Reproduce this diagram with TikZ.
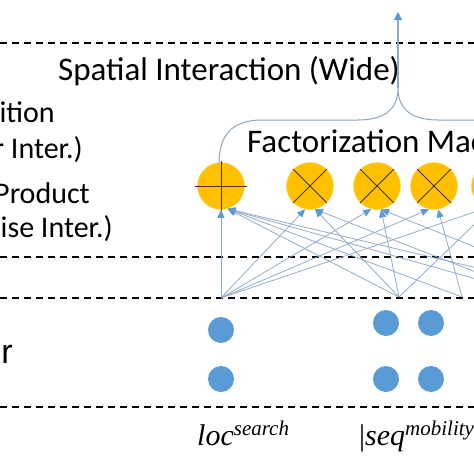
\documentclass[tikz,border=0pt]{standalone}
\usepackage{fontspec}
\setmainfont{Carlito}
\newfontfamily\arialf{Liberation Sans}
\newfontfamily\timesf{Liberation Serif}
\usetikzlibrary{arrows.meta}
\definecolor{fmorange}{HTML}{FFC000}
\definecolor{dotblue}{HTML}{5B9BD5}
\definecolor{edgeblue}{HTML}{8FA9C8}
\definecolor{braceblue}{HTML}{8FA7BF}
\definecolor{crossbrown}{HTML}{4A3010}
\begin{document}
\begin{tikzpicture}[x=1pt,y=-1pt,
  fm/.style={circle,fill=fmorange,draw=fmorange!60!white,line width=0.6pt,minimum size=47pt,inner sep=0pt},
  emb/.style={circle,fill=dotblue,minimum size=26pt,inner sep=0pt},
  crossline/.style={draw=crossbrown,line width=0.9pt},
  sep/.style={draw=black,line width=1.5pt,dash pattern=on 7pt off 5pt},
  edge/.style={draw=edgeblue,line width=0.75pt,-{Triangle[length=8pt,width=7pt,color=dotblue]}},
  brace/.style={draw=braceblue,line width=1pt},
  big/.style={inner sep=0pt,font=\fontsize{33}{35}\selectfont},
  lbl/.style={inner sep=0pt,font=\fontsize{30}{32}\selectfont},
  math/.style={inner sep=0pt,font=\timesf\itshape\fontsize{30}{32}\selectfont}]
\useasboundingbox (0,0) rectangle (474,474);
\fill[white] (0,0) rectangle (474,474);
\clip (0,0) rectangle (474,474);

% separators
\draw[sep] (0,43) -- (474,43);
\draw[sep] (0,257) -- (474,257);
\draw[sep] (0,298) -- (474,298);
\draw[sep] (0,407) -- (474,407);

% texts
\node[big,anchor=base west] (spatial) at (58,80) {Spatial Interaction (Wide)};
\node[big,anchor=base west] (fmtitle) at (247,152) {Factorization Machine};
\node[lbl,anchor=base east] (add) at (55,122) {Addition};
\node[lbl,anchor=base east] (lin) at (83,158) {(Linear Inter.)};
\node[lbl,anchor=base east] (ip) at (90,203) {Inner Product};
\node[lbl,anchor=base east] (pw) at (113,237) {(Pair-Wise Inter.)};
\node[inner sep=0pt,anchor=base east,font=\arialf\fontsize{34}{36}\selectfont] (embl) at (13,363) {Embedding Layer};
\node[math,anchor=base west] (loc) at (197,445) {loc\raisebox{10pt}{\fontsize{21}{21}\selectfont search}};
\node[math,anchor=base west] (seq) at (359,445) {{\upshape|}seq\raisebox{10pt}{\fontsize{21}{21}\selectfont mobility}};

% FM circles
\node[fm] (c1) at (221,186) {};
\node[fm] (c2) at (310,186) {};
\node[fm] (c3) at (377,186) {};
\node[fm] (c4) at (434,186) {};
\node[fm] (c5) at (495,186) {};
\draw[crossline] ([xshift=-2pt]c1.west) -- ([xshift=2pt]c1.east);
\draw[crossline] ([yshift=1pt]c1.north) -- ([yshift=-1pt]c1.south);
\foreach \c in {c2,c3,c4,c5}{
  \draw[crossline] (\c.135) -- (\c.-45);
  \draw[crossline] (\c.45) -- (\c.-135);
}

% embedding dots
\node[emb] (e1) at (221,330) {};
\node[emb] (e2) at (221,379) {};
\node[emb] (e3) at (386,323) {};
\node[emb] (e4) at (431,323) {};
\node[emb] (e5) at (386,379) {};
\node[emb] (e6) at (431,379) {};

% input points
\coordinate (A) at (221,298);
\coordinate (B) at (399,297);
\coordinate (C) at (462,297);
\coordinate (D) at (540,297);
\coordinate (E) at (600,297);

% edges
\draw[edge] (A) -- (c1.south);
\foreach \s in {B,C,D,E} \draw[edge] (\s) -- (c1.-74);
\draw[edge] (A) -- (c2.-102);
\foreach \s in {B,D} \draw[edge] (\s) -- (c2.-78);
\draw[edge] (A) -- (c3.-104);
\foreach \s in {B,E} \draw[edge] (\s) -- (c3.-80);
\draw[edge] (A) -- (c4.-102);
\draw[edge] (C) -- (c4.-80);
\draw[edge] (A) -- (c5.-112);
\draw[edge] (B) -- (c5.-102);

% brace and output arrow
\coordinate (bt) at (398,88);
\coordinate (top) at (398,12);
\draw[brace] (219,164) .. controls (219,135) and (232,120) .. (262,120) -- (358,120)
  .. controls (386,120) and (398,108) .. (bt)
  .. controls (398,108) and (410,120) .. (438,120) -- (480,120);
\draw[draw=braceblue,line width=1.2pt,-{Triangle[length=8pt,width=8pt,color=dotblue]}] (bt) -- (top);
\end{tikzpicture}
\end{document}
